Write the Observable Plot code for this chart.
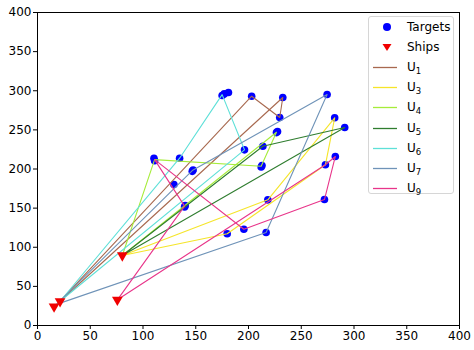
<!DOCTYPE html>
<html>
<head>
<meta charset="utf-8">
<script src="https://cdn.jsdelivr.net/npm/d3@7"></script>
<script src="https://cdn.jsdelivr.net/npm/@observablehq/plot@0.6"></script>
<style>
  body { margin: 0; background: #fff; font-family: "DejaVu Sans", sans-serif; }
  #wrap { position: relative; width: 474px; height: 350px; }
  #legend {
    position: absolute; left: 368px; top: 16px; width: 86px; height: 178px;
    box-sizing: border-box; border: 1px solid #d6d6d6; border-radius: 3px;
    background: rgba(255,255,255,0.85); font-size: 12px; color: #000;
  }
  .row { position: absolute; left: 0; height: 16px; display: flex; align-items: center; }
  .row svg { position: absolute; left: 3px; top: 0; }
  .row span { position: absolute; left: 38px; white-space: nowrap; line-height: 16px; }
  sub { font-size: 8.5px; vertical-align: -3px; line-height: 0; }
</style>
</head>
<body>
<div id="wrap"><div id="legend"></div></div>
<script>
// Target positions (some targets sit almost on top of each other)
const targetX = [175, 177, 181, 203, 232.5, 229.6, 274.5, 281.7, 291.2, 226.5, 227.5, 213.6, 196.2, 212, 212.8,
                 282.3, 272.9, 272, 218.3, 195.6, 216.7, 179.8, 111, 110.4, 134.7, 146.7, 147.5, 129.3, 139.4, 140];
const targetY = [294, 296, 297.8, 293, 291.4, 265.8, 295.2, 265.4, 253, 246.5, 248, 229, 224.5, 202.5, 204.5,
                 216, 205.4, 161, 160.6, 123, 118.8, 117.2, 210.5, 213.8, 213.8, 197, 198.8, 180.2, 151.5, 153.2];

// Ship start positions
const shipX = [15.7, 21.4, 75.7, 80.4];
const shipY = [24.3, 31, 32.8, 89.5];

// Vehicle routes: ship -> targets -> ship
const routeNames = ["U1", "U3", "U4", "U5", "U6", "U7", "U9"];
const routeColors = ["#a8694f", "#f5e52a", "#a6ec3a", "#2f7d2f", "#5ee0d8", "#6f93b8", "#e8358a"];
const routeU1 = [[21.4, 31], [203, 293], [229.6, 265.8], [232.5, 291.4], [21.4, 31]];
const routeU3 = [[80.4, 89.5], [179.8, 117.2], [272.9, 205.4], [281.7, 265.4], [218.3, 160.6], [80.4, 89.5]];
const routeU4 = [[80.4, 89.5], [111, 212], [212, 203.6], [226.5, 247], [80.4, 89.5]];
const routeU5 = [[80.4, 89.5], [213.6, 229], [291.2, 253], [80.4, 89.5]];
const routeU6 = [[21.4, 31], [134.7, 213.8], [175, 295], [196.2, 224.5], [21.4, 31]];
const routeU7 = [[18, 27], [146.7, 198], [274.5, 295.2], [216.7, 118.8], [18, 27]];
const routeU9 = [[75.7, 32.8], [139.4, 152.5], [111, 212], [195.6, 123], [272, 161], [282.3, 216], [272.9, 205.4], [75.7, 32.8]];
const routes = [routeU1, routeU3, routeU4, routeU5, routeU6, routeU7, routeU9];

const ticks = [0, 50, 100, 150, 200, 250, 300, 350, 400];

const targets = targetX.map((x, i) => ({x, y: targetY[i]}));
const ships = shipX.map((x, i) => ({x, y: shipY[i]}));
const segments = routes.flatMap((r, k) => r.map(([x, y], i) => ({x, y, route: routeNames[k], order: i})));

const chart = Plot.plot({
  width: 474,
  height: 350,
  marginLeft: 37,
  marginRight: 15,
  marginTop: 12,
  marginBottom: 25,
  style: {fontFamily: "DejaVu Sans, sans-serif", fontSize: "12px", color: "#000", background: "#fff"},
  x: {domain: [0, 400], ticks, tickSize: 4, tickPadding: 2, label: null},
  y: {domain: [0, 400], ticks, tickSize: 4, tickPadding: 2, label: null},
  color: {domain: routeNames, range: routeColors},
  marks: [
    Plot.dot(targets, {x: "x", y: "y", r: 3.8, fill: "#0000ff", stroke: "none"}),
    Plot.line(segments, {x: "x", y: "y", z: "route", stroke: "route", strokeWidth: 1.1, curve: "linear"}),
    Plot.dot(ships, {x: "x", y: "y", symbol: "triangle", r: 4, fill: "#f00000", stroke: "none", rotate: 180}),
    Plot.frame({stroke: "#000", strokeWidth: 1})
  ]
});
document.getElementById("wrap").prepend(chart);

// Legend
const legend = document.getElementById("legend");
const items = [
  {kind: "dot", label: "Targets"},
  {kind: "ship", label: "Ships"},
  ...routeNames.map((n, i) => ({kind: "line", color: routeColors[i], label: `U<sub>${n.slice(1)}</sub>`}))
];
items.forEach((it, i) => {
  const row = document.createElement("div");
  row.className = "row";
  row.style.top = (2 + i * 20.1) + "px";
  let icon;
  if (it.kind === "dot") icon = `<svg width="30" height="16"><circle cx="15" cy="8" r="4" fill="#0000ff"/></svg>`;
  else if (it.kind === "ship") icon = `<svg width="30" height="16"><path d="M10.5,5 L19.5,5 L15,12 Z" fill="#f00000"/></svg>`;
  else icon = `<svg width="30" height="16"><line x1="1" x2="25" y1="8.5" y2="8.5" stroke="${it.color}" stroke-width="1.3"/></svg>`;
  row.innerHTML = icon + `<span>${it.label}</span>`;
  legend.appendChild(row);
});
</script>
</body>
</html>
